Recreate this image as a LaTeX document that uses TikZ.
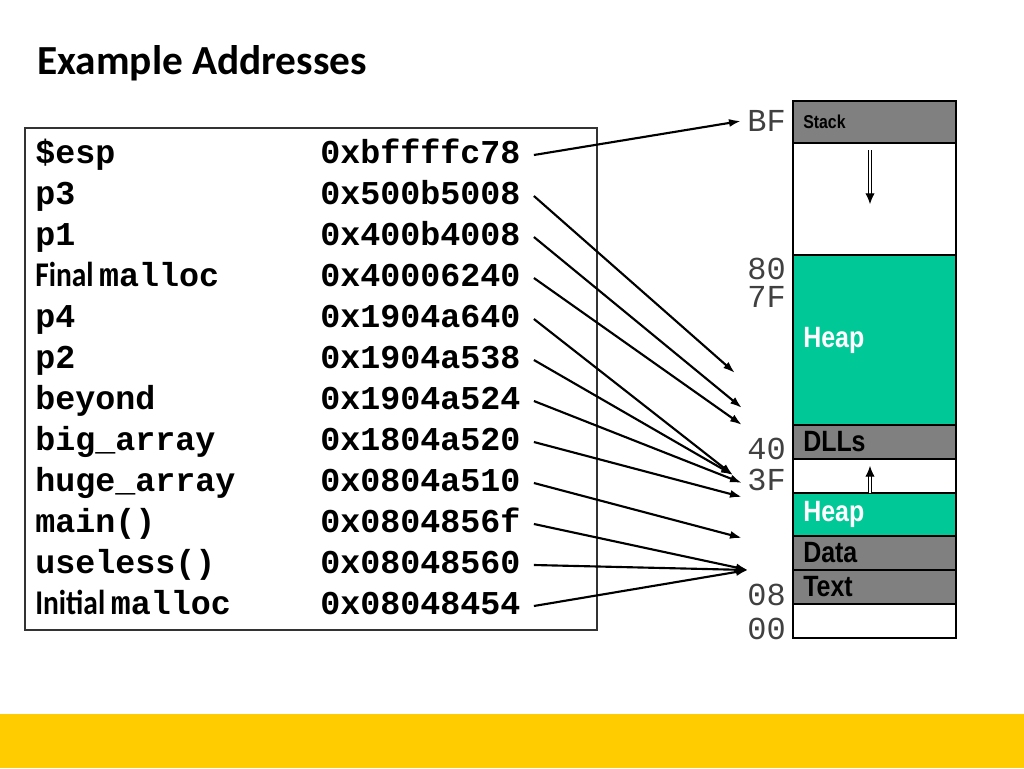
\documentclass[tikz,border=0pt]{standalone}
\usepackage{fontspec}
\setmainfont{Carlito}
\newfontfamily\monofont{Liberation Mono}
\newfontfamily\armfont{Liberation Sans}
\usetikzlibrary{arrows.meta,positioning}
\definecolor{heapgreen}{HTML}{00C896}
\definecolor{seggray}{HTML}{808080}
\definecolor{bandyellow}{HTML}{FFCC00}
\tikzset{
  varname/.style={anchor=base west,inner sep=0pt,font=\monofont\bfseries\fontsize{25}{25}\selectfont},
  addrval/.style={anchor=base west,inner sep=0pt,font=\monofont\bfseries\fontsize{25}{25}\selectfont},
  hexmark/.style={anchor=base east,inner sep=0pt,text=black!75,font=\monofont\fontsize{24}{24}\selectfont},
  seglabel/.style={anchor=west,inner sep=0pt,font=\armfont\bfseries\fontsize{22}{22}\selectfont\addfontfeature{FakeStretch=0.85}},
  segbox/.style={draw=black,line width=2pt},
  ptrarrow/.style={-{Latex[length=9pt,width=6pt]},line width=1.6pt},
  growarrow/.style={double,double distance=1.5pt,line width=0.7pt,-{Latex[length=8pt,width=7pt]}},
}
\newcommand{\mixed}[2]{{\fontspec{Carlito}\bfseries\fontsize{26}{26}\selectfont\addfontfeature{FakeStretch=0.85}#1}\,#2}
\begin{document}
\begin{tikzpicture}[x=0.75pt,y=-0.75pt]
\useasboundingbox (0,0) rectangle (1024,768);
\fill[bandyellow] (0,714) rectangle (1024,768);
\node[anchor=base west,inner sep=0pt,font=\bfseries\fontsize{31}{31}\selectfont] (title) at (37,74) {Example Addresses};
% address table
\draw[line width=0.8pt,black!80] (25,128) rectangle (597,630);
\foreach \nm/\lbl/\val [count=\i] in {
  esp/\$esp/0xbffffc78, pthree/p3/0x500b5008, pone/p1/0x400b4008,
  fin/{\mixed{Final}{malloc}}/0x40006240, pfour/p4/0x1904a640, ptwo/p2/0x1904a538,
  beyond/beyond/0x1904a524, big/big\_array/0x1804a520, huge/huge\_array/0x0804a510,
  main/main()/0x0804856f, useless/useless()/0x08048560, init/{\mixed{Initial}{malloc}}/0x08048454} {
  \node[varname] (n-\nm) at (35,{163+41*(\i-1)}) {\lbl};
  \node[addrval] (a-\nm) at (320,{163+41*(\i-1)}) {\val};
}
% memory column
\foreach \nm/\ya/\yb/\col in {stack/101/143/seggray, gap/143/255/white, heapt/255/425/heapgreen,
  dll/425/459/seggray, gapb/459/493/white, heapb/493/536/heapgreen, data/536/570/seggray,
  text/570/604/seggray, low/604/638/white} {
  \draw[segbox,fill=\col] (793,\ya) rectangle (956,\yb);
  \coordinate (m-\nm) at (803,{(\ya+\yb)/2});
}
\node[seglabel,font=\armfont\bfseries\fontsize{14}{14}\selectfont\addfontfeature{FakeStretch=0.85}] at (m-stack) {Stack};
\node[seglabel,text=white] at (m-heapt) {Heap};
\node[seglabel] at (m-dll) {DLLs};
\node[seglabel,text=white] at (m-heapb) {Heap};
\node[seglabel] at (m-data) {Data};
\node[seglabel] at (m-text) {Text};
% growth arrows
\coordinate (sg1) at (870,150); \coordinate (sg2) at (870,204);
\draw[growarrow] (sg1) -- (sg2);
\coordinate (hg1) at (870,493); \coordinate (hg2) at (870,466);
\draw[growarrow] (hg1) -- (hg2);
% address marks
\node[hexmark] (BF) at (786,131) {BF};
\node[hexmark] (m80) at (786,279) {80};
\node[hexmark] (m7F) at (786,307) {7F};
\node[hexmark] (m40) at (786,459) {40};
\node[hexmark] (m3F) at (786,490) {3F};
\node[hexmark] (m08) at (786,605) {08};
\node[hexmark] (m00) at (786,639) {00};
% arrow targets
\coordinate (t-bf) at (741,121);
\coordinate (t-a) at (735,373);
\coordinate (t-b) at (742,408);
\coordinate (t-c) at (742,425);
\coordinate (t-d) at (733,475);
\coordinate (t-e) at (742,483);
\coordinate (t-f) at (742,497);
\coordinate (t-g) at (742,538);
\coordinate (t-h) at (748,570);
% pointers
\foreach \src/\dst in {esp/bf, pthree/a, pone/b, fin/c, pfour/d, ptwo/d, beyond/e, big/f, huge/g, main/h, useless/h, init/h}
  \draw[ptrarrow] ([xshift=10pt,yshift=6pt]a-\src.base east) -- (t-\dst);
\end{tikzpicture}
\end{document}
